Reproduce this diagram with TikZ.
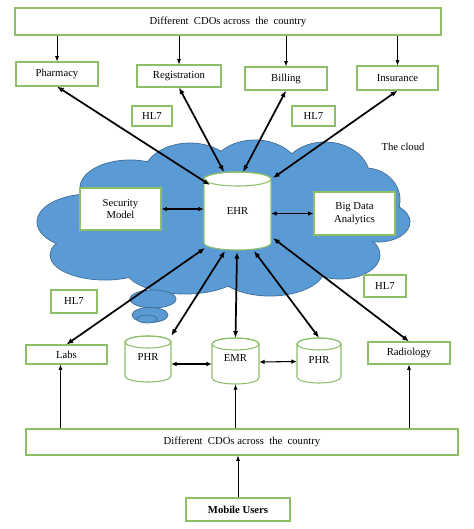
\documentclass[tikz,border=0pt]{standalone}
\usepackage{fontspec}
\setmainfont{Liberation Serif}
\usetikzlibrary{arrows.meta,fit,calc}
\definecolor{cloudblue}{HTML}{5B9BD5}
\definecolor{cloudedge}{HTML}{41719C}
\definecolor{boxgreen}{HTML}{8DBF6A}
\newcommand\drawcyl[5]{%
  \filldraw[draw=boxgreen,line width=0.8pt,fill=white]
    (#1,#3+#5) -- (#1,#4-#5)
    arc[start angle=180,end angle=360,x radius={(#2-#1)/2*0.75pt},y radius={#5*0.75pt}]
    -- (#2,#3+#5)
    arc[start angle=0,end angle=180,x radius={(#2-#1)/2*0.75pt},y radius={#5*0.75pt}]
    -- cycle;
  \draw[boxgreen,line width=0.8pt] ({(#1+#2)/2},#3+#5) ellipse[x radius={(#2-#1)/2*0.75pt},y radius={#5*0.75pt}];
}
\begin{document}
\begin{tikzpicture}[x=0.75pt,y=-0.75pt,
  box/.style={draw=boxgreen,line width=0.8pt,fill=white,inner sep=0pt},
  cylnode/.style={inner sep=0pt},
  lbl/.style={font=\fontsize{8}{9.5}\selectfont,inner sep=0pt,align=center},
  link/.style={{Latex[length=5pt,width=4pt]}-{Latex[length=5pt,width=4pt]},line width=1.3pt},
  side/.style={{Latex[length=4pt,width=3.5pt]}-{Latex[length=4pt,width=3.5pt]},line width=0.8pt},
  feed/.style={-{Latex[length=4pt,width=3pt]},line width=0.6pt},
]
\useasboundingbox (0,0) rectangle (474,529);

% cloud
\begin{scope}[line width=0.6pt]
  \foreach \cx/\cy/\rx/\ry in {90/222/53/28,105/255/55/25,130/188/50/28,190/178/48/35,
      255/173/45/33,325/178/45/36,365/200/35/32,378/222/32/20,340/255/40/24,
      270/268/55/28,185/268/60/26,230/225/110/45}
    \filldraw[fill=cloudblue,draw=cloudedge] (\cx,\cy) ellipse[x radius={\rx*0.75pt},y radius={\ry*0.75pt}];
  \foreach \cx/\cy/\rx/\ry in {90/222/53/28,105/255/55/25,130/188/50/28,190/178/48/35,
      255/173/45/33,325/178/45/36,365/200/35/32,378/222/32/20,340/255/40/24,
      270/268/55/28,185/268/60/26,230/225/110/45}
    \fill[cloudblue] (\cx,\cy) ellipse[x radius={\rx*0.75pt-0.6pt},y radius={\ry*0.75pt-0.6pt}];
  \filldraw[fill=cloudblue,draw=cloudedge] (153,299) ellipse[x radius={23*0.75pt},y radius={9*0.75pt}];
  \filldraw[fill=cloudblue,draw=cloudedge] (150,315) ellipse[x radius={18*0.75pt},y radius={7.5*0.75pt}];
  \filldraw[fill=cloudblue,draw=cloudedge] (147,319) ellipse[x radius={10*0.75pt},y radius={4*0.75pt}];
\end{scope}
\node[lbl] (cloudlbl) at (403,147) {The cloud};

% top and bottom CDO bars
\node[box,fit={(15,8) (441,35)}] (top) {};
\node[lbl] at (top.center) {Different\ \ CDOs across\ \ the\ \ country};
\node[box,fit={(26,429) (458,455)}] (bot) {};
\node[lbl] at (bot.center) {Different\ \ CDOs across\ \ the\ \ country};
\node[box,fit={(186,498) (290,521)}] (mob) {};
\node[lbl] at (mob.center) {\textbf{Mobile Users}};

% departments
\node[box,fit={(16,62) (98,86)}] (pharm) {};
\node[lbl] at (pharm.center) {Pharmacy};
\node[box,fit={(137,65) (221,87)}] (reg) {};
\node[lbl] at (reg.center) {Registration};
\node[box,fit={(245,67) (327,90)}] (bill) {};
\node[lbl] at (bill.center) {Billing};
\node[box,fit={(357,66) (438,90)}] (ins) {};
\node[lbl] at (ins.center) {Insurance};
\node[box,fit={(26,345) (107,364)}] (labs) {};
\node[lbl] at (labs.center) {Labs};
\node[box,fit={(368,342) (450,364)}] (rad) {};
\node[lbl] at (rad.center) {Radiology};

% HL7 labels
\node[box,fit={(132,106) (172,126)}] (hl1) {};
\node[lbl] at (hl1.center) {HL7};
\node[box,fit={(292,106) (335,126)}] (hl2) {};
\node[lbl] at (hl2.center) {HL7};
\node[box,fit={(364,275) (406,297)}] (hl3) {};
\node[lbl] at (hl3.center) {HL7};
\node[box,fit={(51,290) (97,313)}] (hl4) {};
\node[lbl] at (hl4.center) {HL7};

% cloud services
\node[box,fit={(80,188) (161,230)}] (sec) {};
\node[lbl] at (sec.center) {Security\\Model};
\node[box,fit={(314,192) (395,235)}] (bd) {};
\node[lbl] at (bd.center) {Big Data\\Analytics};

% cylinders
\drawcyl{204}{271}{172}{250}{7}
\node[cylnode,fit={(204,172) (271,250)}] (ehr) {};
\node[lbl] at (ehr.center) {EHR};
\drawcyl{125}{171}{336}{382}{6}
\node[cylnode,fit={(125,336) (171,382)}] (phrL) {};
\node[lbl] at ($(phrL.center)+(0,-2)$) {PHR};
\drawcyl{212}{259}{338}{384}{6}
\node[cylnode,fit={(212,338) (259,384)}] (emr) {};
\node[lbl] at ($(emr.center)+(0,-3)$) {EMR};
\drawcyl{297}{341}{338}{383}{6}
\node[cylnode,fit={(297,338) (341,383)}] (phrR) {};
\node[lbl] at (phrR.center) {PHR};

% EHR attachment points
\coordinate (e1) at (210,185);
\coordinate (e2) at (224,172);
\coordinate (e3) at (243,172);
\coordinate (e4) at (273,178);
\coordinate (e5) at (205,248);
\coordinate (e6) at (225,251);
\coordinate (e7) at (237,252);
\coordinate (e8) at (254,251);
\coordinate (e9) at (273,238);

% feeds from CDO bars
\draw[feed] (top.south -| pharm.north) -- (pharm.north);
\draw[feed] (top.south -| reg.north) -- (reg.north);
\draw[feed] (top.south -| bill.north) -- (bill.north);
\draw[feed] (top.south -| ins.north) -- (ins.north);
\coordinate (labsin) at ($(labs.south)+(-6,0)$);
\draw[feed] (bot.north -| labsin) -- (labsin);
\draw[feed] (bot.north -| emr.south) -- (emr.south);
\draw[feed] (bot.north -| rad.south) -- (rad.south);
\draw[feed] (mob.north) -- (bot.south -| mob.north);

% EHR links
\draw[link] (pharm.south) -- (e1);
\draw[link] (reg.south) -- (e2);
\draw[link] (bill.south) -- (e3);
\draw[link] (ins.south) -- (e4);
\draw[link] (labs.north) -- (e5);
\draw[link] (phrL.north east) -- (e6);
\draw[link] (emr.north) -- (e7);
\draw[link] (phrR.north) -- (e8);
\draw[link] (rad.north) -- (e9);

% side links
\draw[side] (sec.east) -- (sec.east -| ehr.west);
\draw[side] (bd.west) -- (bd.west -| ehr.east);
\draw[side] ($(phrL.east)+(0,5)$) -- ($(emr.west)+(0,3)$);
\draw[side] ($(emr.east)+(0,1)$) -- ($(phrR.west)+(0,1)$);
\end{tikzpicture}
\end{document}
